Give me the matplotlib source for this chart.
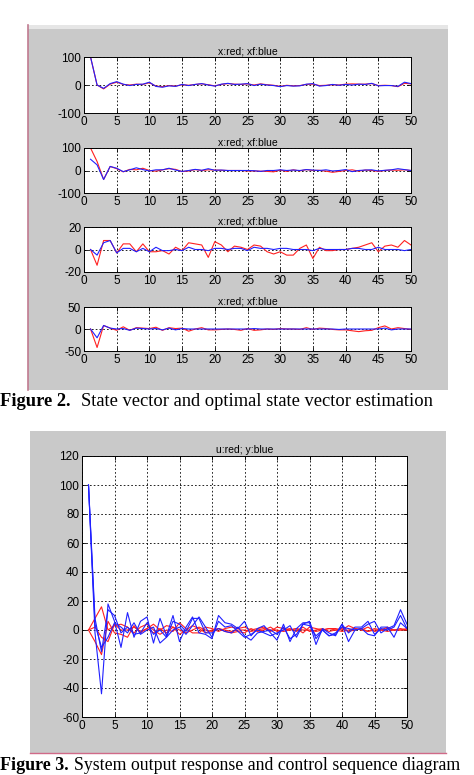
import numpy as np
import matplotlib
matplotlib.use("Agg")
import matplotlib.pyplot as plt
from matplotlib.patches import Rectangle

plt.rcParams['axes.unicode_minus'] = False

# time steps
k = np.arange(1, 51)

# Figure 2: state x (red) and estimate xf (blue), four components
x1 = [100, 0, -14, 3, 10, 2, 0, 3, 2, 8, -4, -6, -2, -4, 1, -1, 2, 4, 1, -3,
      2, 5, 3, 2, 4, 0, 4, 1, -1, -5, -1, -3, -2, 2, 3, -2, -1, 1, 0, 3,
      4, 3, 3, 5, -2, -1, -2, -6, 6, 4]
xf1 = [100, 0, -12, 5, 12, 3, -2, 2, 3, 10, -5, -8, -3, -5, 2, -2, 2, 5, 0, -4,
       3, 6, 2, 3, 5, -2, 3, 0, -2, -6, -2, -4, -3, 3, 5, -4, -2, 2, -1, 2,
       0, 3, 2, 6, -3, -2, -2, -5, 10, 5]
x2 = [100, 40, -40, 18, 8, -6, 5, 3, 10, 0, -3, 3, 8, 5, -5, -2, 4, 0, 3, 2,
      1, 0, 0, 0, -2, -2, -3, -4, -6, 2, -4, 3, -2, 4, 0, 1, -3, -8, -4, 0,
      3, -3, 2, 0, -4, 0, 2, 1, 3, 0]
xf2 = [50, 25, -40, 18, 10, -5, 3, 12, 4, -2, 3, 3, 10, 2, -4, 0, 5, 1, 8, 1,
       2, 0, 0, 0, 0, -1, -4, 0, 0, 3, 0, 2, 0, 4, 2, 0, 3, -2, 0, 4,
       -5, 0, 2, 3, -2, 1, 3, 8, 4, 0]
x3 = [0, -14, 8, 8, -3, 5, 5, -2, 5, -2, -2, -1, -4, 2, -1, 6, 5, 4, -7, 7,
      4, -2, 3, 2, 0, 4, 3, -2, -4, -2, -5, -5, 1, 4, -8, 2, -1, -1, 0, 0,
      1, 2, 4, 6, -2, 3, 4, 2, 8, 4]
xf3 = [0, -5, 6, 8, -3, 1, 1, -2, 1, -2, 2, -1, -1, 0, -1, 2, 0, 0, -1, 1,
       1, 0, 1, 1, -1, 2, 1, 1, 0, 1, 1, 0, 0, 0, -1, 1, 0, 0, 0, 0,
       1, 1, 0, 0, 2, 0, 0, 0, -1, 0]
x4 = [0, -42, 8, 2, -3, 5, -3, 3, 2, 1, 4, -3, 3, 1, 2, -5, 0, 3, -2, -2,
      -1, 0, -1, -3, 1, -3, -2, 0, -1, 1, 0, 0, -1, 3, -1, 2, 1, -1, -2, -2,
      -4, -6, -4, -3, 3, 7, 0, 3, 1, -1]
xf4 = [0, -20, 8, 2, 0, 1, -3, 2, 1, 0, 1, -2, 2, -2, 1, 0, 0, 0, 0, 0,
       0, 0, 0, 0, 0, 1, 0, 0, 0, 0, 0, 0, 0, 0, 0, 0, 0, 0, -1, 0,
       0, 0, 0, 0, 0, 2, -2, 0, 0, 0]
ylims2 = [(-100, 100), (-100, 100), (-20, 20), (-50, 50)]
yticks2 = [[-100, 0, 100], [-100, 0, 100], [-20, 0, 20], [-50, 0, 50]]

# Figure 3: control u (red) and output y (blue)
y1 = [100, -2, -44, 18, 6, -12, 12, -5, 6, 9, -9, 8, -4, 10, -8, 2, 9, -2, -3, -6,
      10, 5, 4, 1, 6, -4, 1, 3, -2, -7, 4, -8, 1, 5, 5, -10, 1, -2, -4, 4,
      -8, 0, 1, 4, 6, -2, 1, 3, 14, 4]
y2 = [100, 8, -15, 14, 10, -2, 2, -3, -2, 5, -3, 0, -5, 6, 4, -1, 8, 8, -2, -2,
      1, -1, -2, 2, -4, -7, -2, -1, 0, -3, 2, -6, -3, 4, 3, -4, 0, -4, -2, 2,
      1, 0, 1, -3, -4, 2, 2, -5, 5, 1]
y3 = [100, 4, -12, -5, 5, 2, -2, 5, -3, 0, 2, -9, -5, 0, 2, -3, 3, 9, 2, -5,
      6, 2, 3, -1, -5, -3, 0, -2, -4, -2, 0, 3, -5, 4, 6, -6, 0, -4, -3, 4,
      -2, 2, 2, 6, -3, 1, 0, 2, 10, 1]
u1 = [0, 8, 16, 0, 3, 4, 2, -2, 2, 4, 0, -3, 0, -1, 5, 1, -2, -2, 2, 1,
      -1, 1, 2, 1, 2, 0, 1, 2, -1, 2, 1, 0, 1, -2, 2, 1, 0, 1, 1, 0,
      3, 1, 0, 2, -1, 0, 2, 0, 0, 1]
u2 = [0, -8, -17, 6, -2, -3, -5, 3, -2, 1, 4, 0, 3, 2, -3, 0, 3, 1, -2, 0,
      1, -1, -2, -1, -2, 1, -1, 0, 2, -1, 0, 1, -1, 2, -1, 0, 1, -1, 0, 1,
      -1, 0, 1, -1, 1, 0, -1, 0, 1, 0]
u3 = [0, 2, -5, -8, 4, 0, 0, 2, -1, 1, -2, 1, -2, 2, 0, -2, 0, 2, 0, -1,
      1, 0, -1, 0, 0, -1, 0, 1, 0, 0, -1, 0, 1, 0, 0, -1, 0, 1, 0, -1,
      0, 1, 0, -1, 0, 0, 1, 0, 0, 0]

W, H = 474, 775
fig = plt.figure(figsize=(W / 100, H / 100), dpi=100)
fig.patch.set_facecolor('white')

sans = ['Liberation Sans Narrow', 'Liberation Sans', 'DejaVu Sans']


def box(l, t, r, b):
    return [l / W, 1 - b / H, (r - l) / W, (b - t) / H]


def panel(l, t, r, b, color='#c9c9c9'):
    x, y, w, h = box(l, t, r, b)
    fig.patches.append(Rectangle((x, y), w, h, transform=fig.transFigure,
                                 facecolor=color, edgecolor='none', zorder=-5))


def style(ax, ylim, yticks, title):
    ax.set_xlim(0, 50)
    ax.set_ylim(*ylim)
    ax.set_xticks(range(0, 51, 5))
    ax.set_yticks(yticks)
    ax.tick_params(direction='in', length=3, width=0.6, pad=2,
                   top=True, right=True)
    for lab in ax.get_xticklabels() + ax.get_yticklabels():
        lab.set_fontfamily(sans)
        lab.set_fontsize(8.5)
    ax.grid(True, color='black', linestyle=(0, (2, 2.5)), linewidth=0.6)
    for s in ax.spines.values():
        s.set_linewidth(0.7)
    ax.set_title(title, fontsize=7.5, family=sans, pad=2)


# gray figure windows
panel(28, 25, 448, 390)
panel(28, 25, 448, 29, color='#e6e6e6')
fig.add_artist(plt.Line2D([28 / W, 28 / W], [1 - 390 / H, 1 - 25 / H],
                          color='#c07a90', lw=1.2, transform=fig.transFigure))
panel(30, 431, 446, 753)
fig.add_artist(plt.Line2D([30 / W, 446 / W], [1 - 753 / H, 1 - 753 / H],
                          color='#d06a88', lw=1.0, transform=fig.transFigure))

# Figure 2 subplots
rows = [(57, 113), (148, 193), (227, 272), (307, 351)]
reds = [x1, x2, x3, x4]
blues = [xf1, xf2, xf3, xf4]
for (t, b), xr, xb, yl, yt in zip(rows, reds, blues, ylims2, yticks2):
    ax = fig.add_axes(box(84, t, 411, b))
    ax.plot(k, xr, color='#ff2020', lw=0.8)
    ax.plot(k, xb, color='#2020ff', lw=0.8)
    style(ax, yl, yt, 'x:red; xf:blue')

# Figure 3
ax = fig.add_axes(box(82, 456, 407, 717))
for u in (u1, u2, u3):
    ax.plot(k, u, color='#ff2020', lw=0.8)
for y in (y1, y2, y3):
    ax.plot(k, y, color='#2020ff', lw=0.8)
style(ax, (-60, 120), range(-60, 121, 20), 'u:red; y:blue')

# captions
cap = ['Liberation Serif', 'DejaVu Serif']
fig.text(0 / W, 1 - 402 / H, 'Figure 2.', fontsize=13.3, fontweight='bold',
         family=cap, va='center', ha='left')
fig.text(81 / W, 1 - 402 / H, 'State vector and optimal state vector estimation',
         fontsize=13.3, family=cap, va='center', ha='left')
fig.text(0 / W, 1 - 765 / H, 'Figure 3.', fontsize=13, fontweight='bold',
         family=cap, va='center', ha='left')
fig.text(74 / W, 1 - 765 / H, 'System output response and control sequence diagram',
         fontsize=12.8, family=cap, va='center', ha='left')

fig.savefig('out.png', dpi=100)
